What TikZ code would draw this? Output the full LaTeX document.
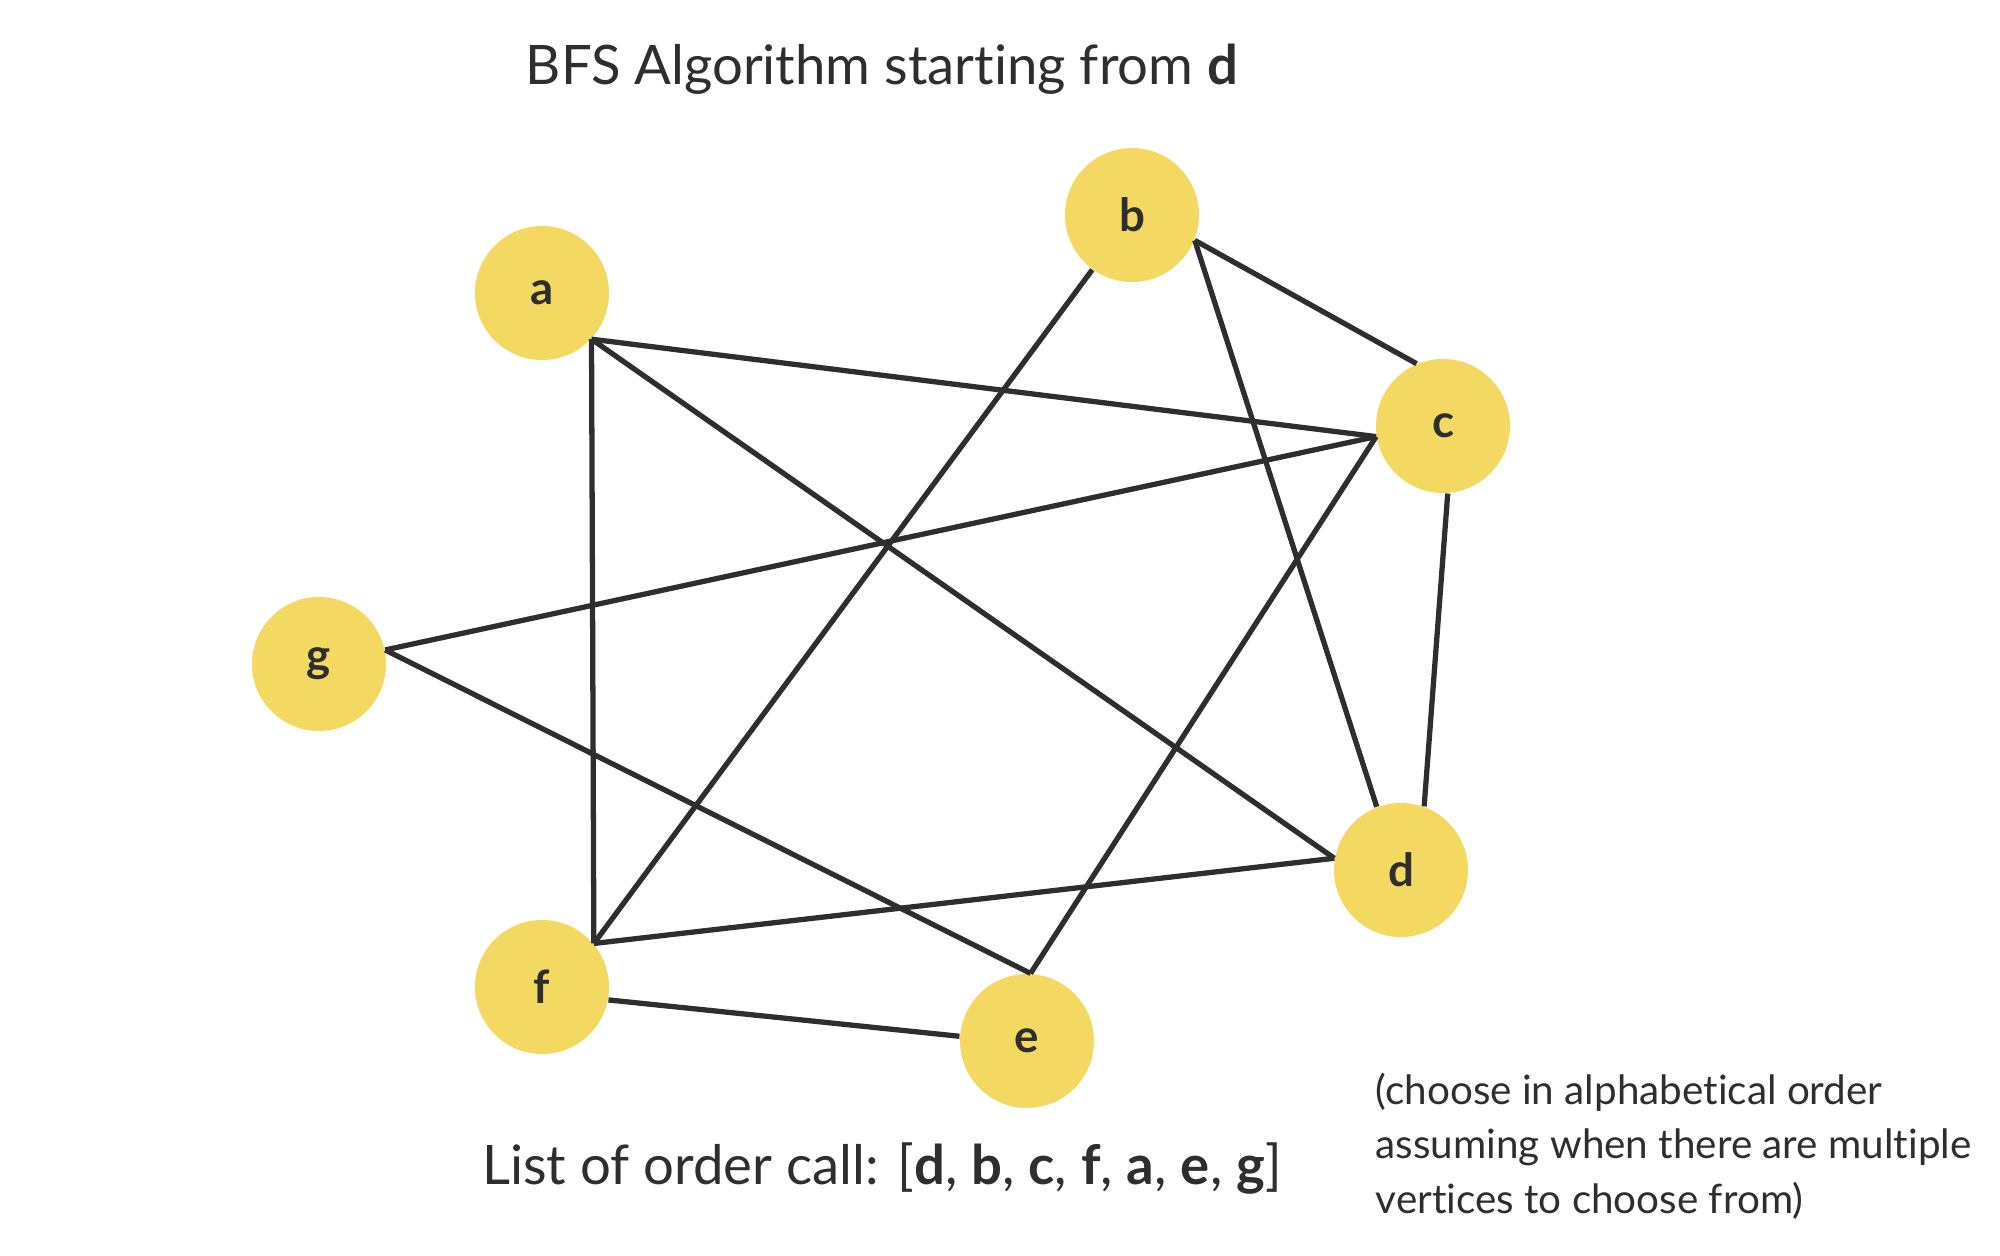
\documentclass[tikz,border=0pt]{standalone}
\usepackage{fontspec}
\setmainfont{Lato}[Ligatures=NoCommon]
\usepackage{xcolor}
\usetikzlibrary{calc}
\definecolor{vertexfill}{HTML}{F3D862}
\definecolor{inkgray}{HTML}{2E2E2E}

\begin{document}
\begin{tikzpicture}[every node/.style={text=inkgray}, vertex/.style={circle, fill=vertexfill, minimum size=1.34cm, inner sep=0pt, font=\fontsize{13}{15}\selectfont\bfseries}, edge/.style={draw=inkgray, line width=1.5pt}]
  \useasboundingbox (0,0) rectangle (20,-12.56);
  \node[vertex] (a) at (5.42,-2.93) {a};
  \node[vertex] (b) at (11.32,-2.15) {b};
  \node[vertex] (c) at (14.43,-4.26) {c};
  \node[vertex] (g) at (3.19,-6.64) {g};
  \node[vertex] (d) at (14.01,-8.70) {d};
  \node[vertex] (f) at (5.42,-9.87) {f};
  \node[vertex] (e) at (10.27,-10.41) {e};
  \draw[edge] (a.-43) -- (c.189);
  \draw[edge] (a.-43) -- (d.170);
  \draw[edge] (a.-43) -- (f.40);
  \draw[edge] (b.-126) -- (f.40);
  \draw[edge] (b.-22) -- (c.113);
  \draw[edge] (b.-22) -- (d.111);
  \draw[edge] (c.189) -- (g.12);
  \draw[edge] (c.189) -- (e.87);
  \draw[edge] (c.-86) -- (d.70);
  \draw[edge] (g.12) -- (e.87);
  \draw[edge] (f.40) -- (d.170);
  \draw[edge] (f.-11) -- (e.176);
  \node[anchor=base, font=\fontsize{15.5}{18}\selectfont] (title) at (8.82,-0.85) {BFS Algorithm starting from \textbf{d}};
  \node[anchor=base, font=\fontsize{15.5}{19}\selectfont] (order) at (8.82,-11.84) {List of order call: [\textbf{d}, \textbf{b}, \textbf{c}, \textbf{f}, \textbf{a}, \textbf{e}, \textbf{g}]};
  \node[anchor=north west, align=left, inner sep=0pt, font=\fontsize{11.5}{15.6}\selectfont] (note) at (13.75,-10.72) {(choose in alphabetical order\\assuming when there are multiple\\vertices to choose from)};
\end{tikzpicture}
\end{document}
